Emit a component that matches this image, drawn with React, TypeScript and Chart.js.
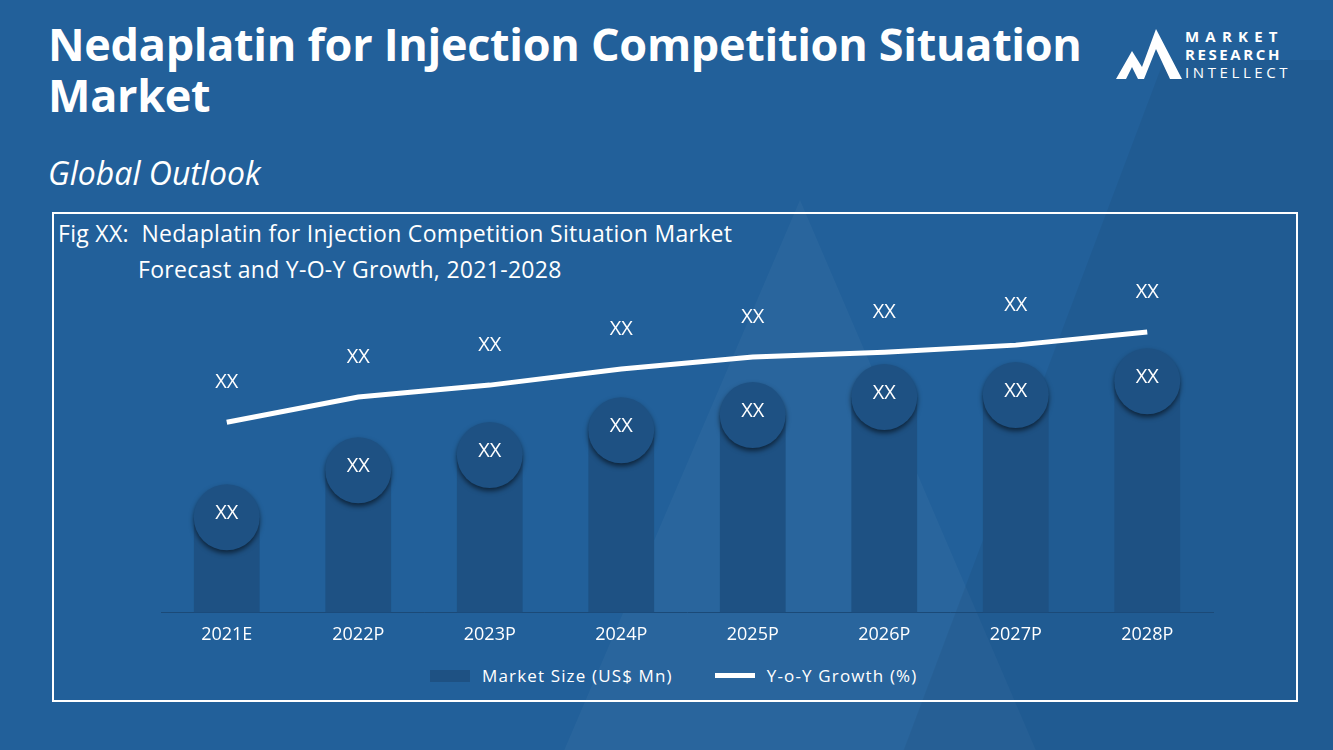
import React, { useEffect, useRef } from "react";
import { Chart, registerables } from "chart.js";

Chart.register(...registerables);

const categories = ["2021E", "2022P", "2023P", "2024P", "2025P", "2026P", "2027P", "2028P"];
const marketSize = [29.5, 44.1, 48.8, 56.5, 61.2, 66.8, 67.4, 71.7];
const yoyGrowth = [59, 66.8, 70.5, 75.5, 79.2, 80.7, 82.9, 87];
const barLabels = ["XX", "XX", "XX", "XX", "XX", "XX", "XX", "XX"];
const lineLabels = ["XX", "XX", "XX", "XX", "XX", "XX", "XX", "XX"];

const BG = "#22609a";
const BAR = "#1e5183";
const FONT = "'Open Sans', Roboto, sans-serif";

const decorPlugin = {
  id: "decor",
  afterDatasetsDraw(chart: any) {
    const ctx = chart.ctx;
    const barMeta = chart.getDatasetMeta(0);
    const lineMeta = chart.getDatasetMeta(1);
    ctx.save();
    barMeta.data.forEach((el: any, i: number) => {
      ctx.save();
      ctx.shadowColor = "rgba(0,0,0,0.55)";
      ctx.shadowBlur = 5;
      ctx.shadowOffsetY = 3;
      ctx.beginPath();
      ctx.arc(el.x, el.y, 33, 0, Math.PI * 2);
      ctx.fillStyle = BAR;
      ctx.fill();
      ctx.restore();
      ctx.fillStyle = "#ffffff";
      ctx.font = `20px ${FONT}`;
      ctx.textAlign = "center";
      ctx.textBaseline = "middle";
      ctx.fillText(barLabels[i], el.x, el.y - 4);
    });
    lineMeta.data.forEach((el: any, i: number) => {
      ctx.fillStyle = "#ffffff";
      ctx.font = `20px ${FONT}`;
      ctx.textAlign = "center";
      ctx.textBaseline = "middle";
      ctx.fillText(lineLabels[i], el.x, el.y - 40);
    });
    ctx.restore();
  },
};

function Logo() {
  return (
    <div style={{ position: "absolute", left: 1116, top: 27, width: 190, height: 56 }}>
      <svg width="68" height="54" viewBox="0 0 68 54" style={{ position: "absolute", left: 0, top: 0 }}>
        <polygon points="0,52 16,24 26,40 40,2 66,52 54,52 40,22 28,52 22,52 16,40 10,52" fill="#ffffff" />
      </svg>
      <div style={{ position: "absolute", left: 69, top: 0, color: "#fff", fontFamily: FONT, fontSize: 15, lineHeight: "18px", fontWeight: 700 }}>
        <div style={{ letterSpacing: 6.2 }}>MARKET</div>
        <div style={{ letterSpacing: 2.6 }}>RESEARCH</div>
        <div style={{ fontWeight: 400, letterSpacing: 3.6 }}>INTELLECT</div>
      </div>
    </div>
  );
}

export default function App() {
  const ref = useRef<HTMLCanvasElement>(null);
  useEffect(() => {
    document.body.style.margin = "0";
    const chart = new Chart(ref.current as HTMLCanvasElement, {
      type: "bar",
      data: {
        labels: categories,
        datasets: [
          {
            type: "bar",
            label: "Market Size (US$ Mn)",
            data: marketSize,
            backgroundColor: BAR,
            barPercentage: 0.5,
            categoryPercentage: 1,
            order: 2,
          },
          {
            type: "line",
            label: "Y-o-Y Growth (%)",
            data: yoyGrowth,
            borderColor: "#ffffff",
            borderWidth: 5,
            pointRadius: 0,
            tension: 0,
            order: 1,
          } as any,
        ],
      },
      options: {
        animation: false,
        responsive: false,
        maintainAspectRatio: false,
        layout: { padding: { left: 109, right: 83, top: 78, bottom: 6 } },
        plugins: { legend: { display: false }, tooltip: { enabled: false } },
        scales: {
          x: {
            grid: { display: false, drawTicks: false },
            border: { display: true, color: "#1b4a78", width: 1 },
            ticks: { color: "#ffffff", font: { family: FONT, size: 18, weight: 500 as any }, padding: 12 },
          },
          y: { display: false, min: 0, max: 100 },
        },
      },
      plugins: [decorPlugin],
    });
    return () => chart.destroy();
  }, []);

  return (
    <div style={{ position: "absolute", left: 0, top: 0, width: 1333, height: 750, background: BG, overflow: "hidden", fontFamily: FONT }}>
      <div style={{ position: "absolute", left: 560, top: 200, width: 480, height: 560, background: "rgba(255,255,255,0.035)", clipPath: "polygon(50% 0, 100% 100%, 0 100%)" }} />
      <div style={{ position: "absolute", left: 900, top: 60, width: 440, height: 700, background: "rgba(0,0,0,0.05)", clipPath: "polygon(60% 0, 100% 0, 100% 100%, 0 100%)" }} />
      <div style={{ position: "absolute", left: 48, top: 18, width: 1085, color: "#fff", fontSize: 45, fontWeight: 700, lineHeight: "51px", letterSpacing: -0.3 }}>
        Nedaplatin for Injection Competition Situation Market
      </div>
      <div style={{ position: "absolute", left: 48, top: 151, color: "#fff", fontSize: 32, fontStyle: "italic", fontWeight: 400 }}>
        Global Outlook
      </div>
      <Logo />
      <div style={{ position: "absolute", left: 52, top: 212, width: 1242, height: 486, border: "2px solid #ffffff" }} />
      <div style={{ position: "absolute", left: 58, top: 215, color: "#fff", fontSize: 23, lineHeight: "36px", letterSpacing: 0.3 }}>
        <div>Fig XX:&nbsp; Nedaplatin for Injection Competition Situation Market</div>
        <div style={{ paddingLeft: 80 }}>Forecast and Y-O-Y Growth, 2021-2028</div>
      </div>
      <canvas ref={ref} width={1244} height={452} style={{ position: "absolute", left: 52, top: 212 }} />
      <div style={{ position: "absolute", left: 430, top: 664, display: "flex", alignItems: "center", color: "#fff", fontSize: 17, letterSpacing: 1.15 }}>
        <div style={{ width: 40, height: 12, background: BAR, marginRight: 12 }} />
        <span>Market Size (US$ Mn)</span>
        <div style={{ width: 40, height: 5, background: "#fff", marginLeft: 42, marginRight: 12 }} />
        <span>Y-o-Y Growth (%)</span>
      </div>
    </div>
  );
}
